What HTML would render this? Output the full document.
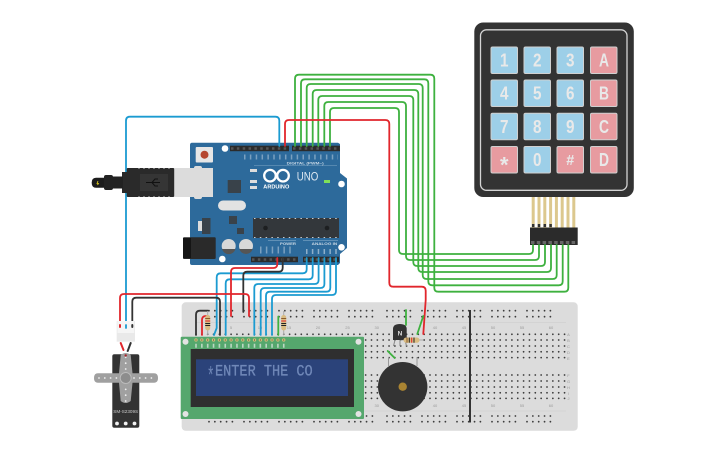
<!DOCTYPE html>
<html><head><meta charset="utf-8"><style>
html,body{margin:0;padding:0;background:#fff}
svg{display:block}
text{font-family:"Liberation Sans",sans-serif}
.w{fill:none;stroke-width:1.8;stroke-linejoin:round;stroke-linecap:round}
.g{stroke:#3eb13f}.r{stroke:#e1262c}.b{stroke:#1b9bd1}.k{stroke:#333}
</style></head><body>
<svg width="725" height="453" viewBox="0 0 725 453" xmlns="http://www.w3.org/2000/svg">
<!-- breadboard -->
<rect x="181.700" y="302.300" width="396" height="128.500" rx="4" fill="#dcdcdc"/>
<path d="M195 322.500H566M195 411H566" stroke="#d0d0d0" stroke-width=".7"/>
<path d="M196 334.300H566M196 340H566M196 346H566M196 351.800H566M196 357.600H566M196 375H566M196 381H566M196 387H566M196 392.800H566M196 398.400H566" stroke="#3c3c3c" stroke-width="1.800" stroke-linecap="round" stroke-dasharray="0 5.850" fill="none"/>
<path d="M209 310.700h24M244 310.700h24M279 310.700h24M314 310.700h24M349 310.700h24M387 310.700h24M422 310.700h24M457 310.700h24M492 310.700h24M527 310.700h24M209 316.700h24M244 316.700h24M279 316.700h24M314 316.700h24M349 316.700h24M387 316.700h24M422 316.700h24M457 316.700h24M492 316.700h24M527 316.700h24M209 416h24M244 416h24M279 416h24M314 416h24M349 416h24M387 416h24M422 416h24M457 416h24M492 416h24M527 416h24M209 421.700h24M244 421.700h24M279 421.700h24M314 421.700h24M349 421.700h24M387 421.700h24M422 421.700h24M457 421.700h24M492 421.700h24M527 421.700h24" stroke="#3c3c3c" stroke-width="1.800" stroke-linecap="round" stroke-dasharray="0 5.850" fill="none"/>
<rect x="469" y="310" width="2" height="112.500" fill="#333"/>
<g font-size="4" fill="#9a9a9a" text-anchor="middle">
<text x="231" y="329">5</text><text x="260" y="329">10</text><text x="289" y="329">15</text><text x="318" y="329">20</text><text x="347.500" y="329">25</text><text x="376.700" y="329">30</text><text x="435" y="329">40</text><text x="464" y="329">45</text><text x="493" y="329">50</text><text x="522" y="329">55</text><text x="551" y="329">60</text>
<text x="376.700" y="407">30</text><text x="435" y="407">40</text><text x="464" y="407">45</text><text x="493" y="407">50</text><text x="522" y="407">55</text><text x="551" y="407">60</text>
<text x="568.500" y="336">A</text><text x="568.500" y="342">B</text><text x="568.500" y="348">C</text><text x="568.500" y="354">D</text><text x="568.500" y="360">E</text><text x="568.500" y="377">F</text><text x="568.500" y="383">G</text><text x="568.500" y="389">H</text><text x="568.500" y="395">I</text><text x="568.500" y="400">J</text>
</g>
<!-- keypad -->
<g fill="#dcc88e"><rect x="531.700" y="197" width="3" height="31"/><rect x="537.500" y="197" width="3" height="31"/><rect x="543.300" y="197" width="3" height="31"/><rect x="549.100" y="197" width="3" height="31"/><rect x="554.900" y="197" width="3" height="31"/><rect x="560.700" y="197" width="3" height="31"/><rect x="566.500" y="197" width="3" height="31"/><rect x="572.300" y="197" width="3" height="31"/></g>
<path d="M533.200 227V224M539 227V224M544.800 227V224M550.600 227V224" stroke="#333" stroke-width="2.500"/>
<rect x="530" y="227.500" width="47.700" height="17.500" fill="#2b2b2b"/>
<path d="M531 242.500H577" stroke="#666" stroke-width="3" stroke-dasharray="3.500 2.300"/>
<rect x="474.300" y="22.500" width="159.500" height="174.500" rx="9" fill="#333"/>
<rect x="480.500" y="29.800" width="146.500" height="160.500" rx="6" fill="none" stroke="#d4d4d4" stroke-width="1.300"/>
<g stroke="#d0d0d0" stroke-width="1">
<g fill="#9dcfe8">
<rect x="491" y="47" width="26.500" height="26.500" rx="1.500"/><rect x="524" y="47" width="26.500" height="26.500" rx="1.500"/><rect x="557" y="47" width="26.500" height="26.500" rx="1.500"/>
<rect x="491" y="80" width="26.500" height="26.500" rx="1.500"/><rect x="524" y="80" width="26.500" height="26.500" rx="1.500"/><rect x="557" y="80" width="26.500" height="26.500" rx="1.500"/>
<rect x="491" y="113.300" width="26.500" height="26.500" rx="1.500"/><rect x="524" y="113.300" width="26.500" height="26.500" rx="1.500"/><rect x="557" y="113.300" width="26.500" height="26.500" rx="1.500"/>
<rect x="524" y="146.500" width="26.500" height="26.500" rx="1.500"/>
</g>
<g fill="#e79ba0">
<rect x="590.500" y="47" width="26.500" height="26.500" rx="1.500"/><rect x="590.500" y="80" width="26.500" height="26.500" rx="1.500"/><rect x="590.500" y="113.300" width="26.500" height="26.500" rx="1.500"/><rect x="590.500" y="146.500" width="26.500" height="26.500" rx="1.500"/>
<rect x="491" y="146.500" width="26.500" height="26.500" rx="1.500"/><rect x="557" y="146.500" width="26.500" height="26.500" rx="1.500"/>
</g></g>
<g font-size="18" fill="#e9e9e9" font-weight="bold" lengthAdjust="spacingAndGlyphs">
<text x="500" y="66.700" textLength="8.500" lengthAdjust="spacingAndGlyphs">1</text><text x="533" y="66.700" textLength="8.500" lengthAdjust="spacingAndGlyphs">2</text><text x="566" y="66.700" textLength="8.500" lengthAdjust="spacingAndGlyphs">3</text><text x="599" y="66.700" textLength="10" lengthAdjust="spacingAndGlyphs">A</text>
<text x="500" y="99.700" textLength="8.500" lengthAdjust="spacingAndGlyphs">4</text><text x="533" y="99.700" textLength="8.500" lengthAdjust="spacingAndGlyphs">5</text><text x="566" y="99.700" textLength="8.500" lengthAdjust="spacingAndGlyphs">6</text><text x="599" y="99.700" textLength="10" lengthAdjust="spacingAndGlyphs">B</text>
<text x="500" y="133" textLength="8.500" lengthAdjust="spacingAndGlyphs">7</text><text x="533" y="133" textLength="8.500" lengthAdjust="spacingAndGlyphs">8</text><text x="566" y="133" textLength="8.500" lengthAdjust="spacingAndGlyphs">9</text><text x="599" y="133" textLength="10" lengthAdjust="spacingAndGlyphs">C</text>
<text x="500" y="172.500" font-size="22" textLength="8.500" lengthAdjust="spacingAndGlyphs">*</text><text x="533" y="166" textLength="8.500" lengthAdjust="spacingAndGlyphs">0</text><text x="566.300" y="165" font-size="15" textLength="8" lengthAdjust="spacingAndGlyphs">#</text><text x="599" y="166" textLength="10" lengthAdjust="spacingAndGlyphs">D</text>
</g>
<!-- arduino -->
<path d="M192 142.700H338L340 144V173L347 178.500V248L340 254V263L338 265H192Q190 265 190 263V145Q190 142.700 192 142.700Z" fill="#2d6a9b"/>
<rect x="230" y="145.700" width="59" height="5.500" fill="#2b2b2b"/><rect x="292" y="145.700" width="48" height="5.500" fill="#2b2b2b"/>
<rect x="251" y="256.700" width="47" height="5.500" fill="#2b2b2b"/><rect x="303" y="256.700" width="36" height="5.500" fill="#2b2b2b"/>
<path d="M231 148.500H289M293 148.500H340M252 259.500H298M304 259.500H339" stroke="#555" stroke-width="2.500" stroke-dasharray="2.500 3.350"/>
<path d="M254 165.500H337" stroke="#7fa6c6" stroke-width=".6"/>
<path d="M268 240.700H296M303 240.700H338" stroke="#7fa6c6" stroke-width=".6"/>
<g fill="#fff"><circle cx="225" cy="148.500" r="3.300"/><circle cx="341.500" cy="184" r="3.300"/><circle cx="341.500" cy="247.300" r="3.300"/><circle cx="222.300" cy="259" r="3.300"/></g>
<g fill="#c9d8e5" font-size="4" font-weight="bold">
<text x="286.700" y="164.500" textLength="37" lengthAdjust="spacingAndGlyphs">DIGITAL (PWM~)</text>
<text x="280" y="245" textLength="16" lengthAdjust="spacingAndGlyphs">POWER</text><text x="311.700" y="245" textLength="25.500" lengthAdjust="spacingAndGlyphs">ANALOG IN</text>
</g>
<path d="M244 157H338" stroke="#b9cddd" stroke-width="5" stroke-dasharray="1.500 4.350" opacity=".55"/>
<path d="M260 250H295" stroke="#b9cddd" stroke-width="7" stroke-dasharray="1.500 4.350" opacity=".55"/>
<path d="M306 251.500H338" stroke="#b9cddd" stroke-width="5" stroke-dasharray="1.500 4.350" opacity=".7"/>
<!-- logo -->
<g fill="none" stroke="#fff" stroke-width="2.300"><circle cx="270" cy="175.700" r="5.800"/><circle cx="283" cy="175.700" r="5.800"/></g>
<text x="263.300" y="188.300" fill="#fff" font-size="5.500" font-weight="bold" textLength="26" lengthAdjust="spacingAndGlyphs">ARDUINO</text>
<text x="296.700" y="180.300" fill="#dfe9f2" font-size="11.500" textLength="21.600" lengthAdjust="spacingAndGlyphs">UNO</text>
<rect x="324" y="180" width="6" height="3" fill="#7fe05a"/>
<rect x="250" y="169" width="7" height="3" fill="#ddd"/><rect x="250" y="180" width="7" height="3" fill="#ddd"/><rect x="250" y="186" width="7" height="3" fill="#ddd"/>
<!-- components -->
<rect x="195.700" y="147" width="17.300" height="15.500" rx="1" fill="#e6e6e6"/><circle cx="204.500" cy="154.700" r="4" fill="#b5462f"/>
<rect x="227.700" y="180" width="13.300" height="13" fill="#39424a"/>
<rect x="218" y="200.500" width="28" height="10" rx="5" fill="#e2e2e2"/>
<rect x="229" y="216" width="8" height="8" fill="#39424a"/>
<rect x="202" y="218" width="8.500" height="16" fill="#39424a"/><rect x="198" y="221" width="4" height="10" fill="#ddd"/>
<rect x="237" y="228" width="7" height="6" fill="#39424a"/>
<rect x="253" y="218" width="86" height="20" fill="#33373b"/>
<path d="M254 218.500H338M254 237.500H338" stroke="#ccc" stroke-width="1" stroke-dasharray="1.500 4.300"/>
<circle cx="265.500" cy="228" r="2.300" fill="#1d1f21"/><circle cx="327" cy="228" r="2.300" fill="#1d1f21"/>
<rect x="183" y="237.300" width="32.700" height="21.700" rx="1" fill="#2a2a2a"/><rect x="183" y="238" width="8" height="20" fill="#151515"/>
<g fill="#d8d8d8"><circle cx="228.700" cy="246" r="7"/><circle cx="246" cy="246" r="7"/></g>
<path d="M222 249A7 7 0 0 0 235.500 249ZM239.300 249A7 7 0 0 0 252.700 249Z" fill="#555"/>
<!-- wires arduino top -->
<g class="w g">
<path d="M295 146V78.700Q295 74.700 299 74.700H430.300Q434.300 74.700 434.300 78.700V287.700Q434.300 291.700 438.300 291.700H564.300Q568.300 291.700 568.300 287.700V245"/>
<path d="M301 146V83.300Q301 79.300 305 79.300H424.300Q428.300 79.300 428.300 83.300V281.300Q428.300 285.300 432.300 285.300H558.700Q562.700 285.300 562.700 281.300V245"/>
<path d="M306.700 146V88Q306.700 84 310.700 84H418.700Q422.700 84 422.700 88V275Q422.700 279 426.700 279H552.700Q556.700 279 556.700 275V245"/>
<path d="M312.700 146V94Q312.700 90 316.700 90H414.300Q418.300 90 418.300 94V268Q418.300 272 422.300 272H547Q551 272 551 268V245"/>
<path d="M318.300 146V100Q318.300 96 322.300 96H409.300Q413.300 96 413.300 100V262Q413.300 266 417.300 266H541Q545 266 545 262V245"/>
<path d="M324.300 146V106Q324.300 102 328.300 102H402Q406 102 406 106V256Q406 260 410 260H535Q539 260 539 256V245"/>
<path d="M330 146V112Q330 108 334 108H395Q399 108 399 112V250Q399 254 403 254H529Q533 254 533 250V245"/>
</g>
<path class="w r" d="M285 146V124Q285 120 289 120H385.300Q389.300 120 389.300 124V282.700Q389.300 286.700 393.300 286.700H421.700Q425.700 286.700 425.700 290.700V300L423.300 334"/>
<path class="w b" d="M279.300 146V120.700Q279.300 116.700 275.300 116.700H130Q126 116.700 126 120.700V325"/>
<!-- wires arduino bottom -->
<g class="w b">
<path d="M306.700 258V269.300Q306.700 273.300 302.700 273.300H220.700Q216.700 273.300 216.700 277.300V328L214 335"/>
<path d="M312.700 258V275.300Q312.700 279.300 308.700 279.300H229.700Q225.700 279.300 225.700 283.300V335"/>
<path d="M318.600 258V280Q318.600 284 314.600 284H258.300Q254.300 284 254.300 288V335"/>
<path d="M324.400 258V284Q324.400 288 320.400 288H264.700Q260.700 288 260.700 292V335"/>
<path d="M330.300 258V287.700Q330.300 291.700 326.300 291.700H270Q266 291.700 266 295.700V335"/>
<path d="M336 258V291Q336 295 332 295H276Q272 295 272 299V335"/>
</g>
<path class="w r" d="M277.300 258V264Q277.300 268 273.300 268H235Q231 268 231 272V316"/>
<path class="w k" d="M282.700 258V267.700Q282.700 271.700 278.700 271.700H247.300Q243.300 271.700 243.300 275.700V312"/>
<path class="w r" d="M120 325V298Q120 294 124 294H245Q249 294 249 298V316"/>
<path class="w k" d="M132.300 325V301.700Q132.300 297.700 136.300 297.700H216Q220 297.700 220 301.700V335"/>
<path class="w k" d="M196 335V314.700Q196 310.700 200 310.700H208"/>
<path class="w r" d="M202 335V320Q202 316 206 316H208"/>
<path class="w g" d="M278.300 316.500V335"/>
<!-- breadboard small wires -->
<path class="w g" d="M406 310V325M423.300 316L417.300 334M387.700 351L394.700 358"/>
<!-- resistors -->
<g stroke="#aaa" stroke-width="1"><path d="M207.700 311V335M283.700 311V335M400 340H423"/></g>
<rect x="205.200" y="315" width="5" height="15.500" rx="2.500" fill="#d9bc82"/>
<rect x="281.200" y="315" width="5" height="15.500" rx="2.500" fill="#d9bc82"/>
<path d="M205.200 318.500h5M281.200 318.500h5" stroke="#8a5a2b" stroke-width="1"/>
<path d="M205.200 321h5M281.200 321h5" stroke="#e1262c" stroke-width="1"/>
<path d="M205.200 323.500h5M205.200 325.500h5M281.200 323.500h5M281.200 325.500h5" stroke="#222" stroke-width="1"/>
<!-- transistor -->
<path d="M395 340L393.500 346M400 340V346M405 340L406.500 346" stroke="#888" stroke-width="1"/>
<path d="M393 329Q393 324 399.800 324Q406.700 324 406.700 329V340H393Z" fill="#333"/>
<text x="400" y="335.500" fill="#ddd" font-size="6.500" font-weight="bold" text-anchor="middle">N</text>
<rect x="403.500" y="337.500" width="16" height="5.200" rx="2.600" fill="#d9bc82"/>
<path d="M407 337.500v5.200" stroke="#8a5a2b" stroke-width="1"/><path d="M409.300 337.500v5.200" stroke="#222" stroke-width="1"/><path d="M411.700 337.500v5.200" stroke="#e1262c" stroke-width="1"/><path d="M414 337.500v5.200" stroke="#222" stroke-width="1"/>
<!-- buzzer -->
<path d="M388.500 357V366M417 357V366" stroke="#999" stroke-width="1"/>
<circle cx="402.700" cy="386.700" r="24.700" fill="#333"/><circle cx="402.700" cy="386.700" r="4.200" fill="#a98432"/>
<!-- LCD -->
<rect x="180.700" y="336.700" width="183.300" height="82.300" rx="1" fill="#55a76d"/>
<g fill="#e3e3e3"><circle cx="185.500" cy="341.700" r="3"/><circle cx="358.500" cy="341.700" r="3"/><circle cx="185.500" cy="414" r="3"/><circle cx="358.500" cy="414" r="3"/></g>
<path d="M196 340H285" stroke="#d4c277" stroke-width="3.300" stroke-linecap="round" stroke-dasharray="0 5.850"/>
<path d="M196 340H285" stroke="#4a4a4a" stroke-width="1.200" stroke-linecap="round" stroke-dasharray="0 5.850"/>
<path d="M195.200 345.800H285" stroke="#bcd6c3" stroke-width="4" stroke-dasharray="1.600 4.250"/>
<rect x="190.700" y="349" width="163.300" height="58" fill="#2f2f2f"/>
<rect x="196" y="359.300" width="152" height="36.700" fill="#2b437a"/>
<g fill="#7088b8" style="font-family:'Liberation Mono',monospace">
<text x="207" y="383.500" font-size="24" textLength="7.500" lengthAdjust="spacingAndGlyphs" style="font-family:'Liberation Mono',monospace">*</text>
<text x="215" y="375.700" font-size="16" stroke="#7088b8" stroke-width=".3" textLength="97.700" lengthAdjust="spacingAndGlyphs" style="font-family:'Liberation Mono',monospace">ENTER THE CO</text>
</g>
<!-- USB -->
<rect x="174" y="168" width="39" height="29" fill="#dcdcdc"/>
<rect x="194" y="166" width="8" height="33" rx="2" fill="#dcdcdc"/>
<rect x="126.700" y="168" width="47.500" height="29" rx="1" fill="#2a2a2a"/>
<rect x="140" y="174" width="28" height="17" fill="#353535"/>
<path d="M146 182.500H160M152 182.500L155 179H158M152 182.500L155 186H158" fill="none" stroke="#111" stroke-width="1"/>
<path d="M138 168.500H172M138 196.500H172" stroke="#777" stroke-width="1" stroke-dasharray="2 3"/>
<rect x="122" y="172" width="5" height="21" fill="#2a2a2a"/>
<rect x="112" y="176.500" width="11" height="12" fill="#222"/>
<rect x="104" y="175" width="9" height="15" rx="2" fill="#222"/>
<path d="M104 177.700H96Q91.700 177.700 91.700 182.700Q91.700 187.700 96 187.700H104Z" fill="#1c1c1c"/>
<path d="M98 181L97 183.500H98.500L97.500 185" stroke="#e6d11f" stroke-width=".8" fill="none"/>
<!-- servo -->
<rect x="116.700" y="321" width="18.300" height="20.700" fill="#e9e9e9"/>
<rect x="117.500" y="321" width="16.700" height="12" fill="#f5f5f5"/>
<g class="w"><path class="r" d="M120 325V327M120.700 343L123.500 350" stroke-width="2"/><path class="b" d="M126 325V328"/><path class="k" d="M132.300 325V327M130.700 343L127.700 351" stroke-width="2"/></g>
<rect x="112.300" y="354.300" width="27" height="73.400" rx="2" fill="#333"/>
<path d="M98 373.300H119L120.700 355Q125.700 351 130.700 355L132.500 373.300H154Q158 373.300 158 378Q158 382.700 154 382.700H132.500L130.700 401Q125.700 405 120.700 401L119 382.700H98Q94 382.700 94 378Q94 373.300 98 373.300Z" fill="#a0a0a0"/>
<circle cx="125.700" cy="378" r="5.500" fill="#8d8d8d" stroke="#bbb" stroke-width="1"/>
<path d="M99 378H117M134 378H156M125.700 369V356M125.700 401V387" stroke="#f0f0f0" stroke-width="1.800" stroke-linecap="round" stroke-dasharray="0 5.800"/>
<circle cx="125.700" cy="355.500" r="1.200" fill="#a3262a"/>
<text x="125.700" y="413" font-size="4.600" fill="#ccc" text-anchor="middle">SM-S2309S</text>
<g fill="#f2f2f2"><circle cx="117" cy="423.500" r="1.900"/><circle cx="125.700" cy="423.500" r="1.900"/><circle cx="134.500" cy="423.500" r="1.900"/></g>
</svg>
</body></html>
